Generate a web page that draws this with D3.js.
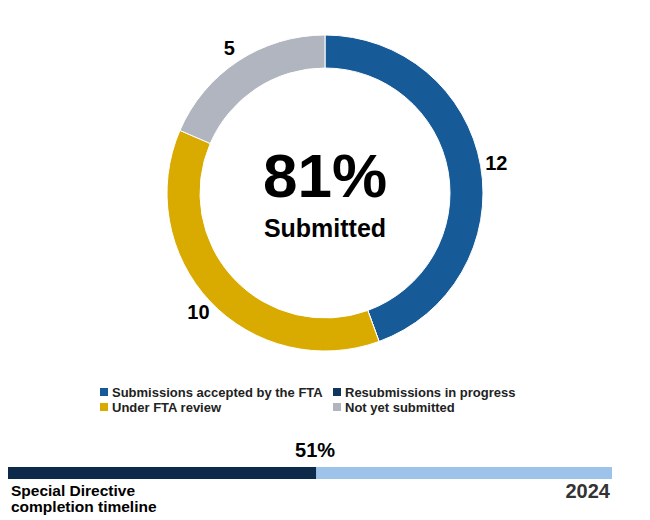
<!DOCTYPE html>
<html><head><meta charset="utf-8">
<script src="https://cdn.jsdelivr.net/npm/d3@7"></script>
<style>body{margin:0;background:#fff}text{font-family:"Liberation Sans",Arial,sans-serif;font-weight:bold}</style>
</head><body>
<svg id="c" width="650" height="520"></svg>
<script>
const categories=["Submissions accepted by the FTA","Resubmissions in progress","Under FTA review","Not yet submitted"];
const values=[12,0,10,5];
const colors=["#175a98","#12355b","#d9ab00","#b1b5bf"];
const centerPct="81%";
const centerLabel="Submitted";
const timelinePct=51;
const timelineLeft="Special Directive";
const timelineLeft2="completion timeline";
const timelineRight="2024";

const svg=d3.select("#c");
const cx=325,cy=193,ro=158,ri=125;
const pie=d3.pie().sort(null).value(d=>d)(values);
const arc=d3.arc().innerRadius(ri).outerRadius(ro);
const g=svg.append("g").attr("transform",`translate(${cx},${cy})`);
g.selectAll("path").data(pie).join("path").attr("d",arc).attr("fill",(d,i)=>colors[i]).attr("stroke","#fff").attr("stroke-width",1);
const la=d3.arc().innerRadius(ro+16).outerRadius(ro+16);
g.selectAll("text.v").data(pie.filter(d=>d.value>0)).join("text").attr("class","v")
 .attr("transform",d=>{const c=la.centroid(d);return `translate(${c})`})
 .attr("text-anchor","middle").attr("dy","0.35em").attr("font-size",20).text(d=>d.value);
g.append("text").attr("text-anchor","middle").attr("y",4).attr("font-size",62).text(centerPct);
g.append("text").attr("text-anchor","middle").attr("y",44).attr("font-size",25).text(centerLabel);

const lx=[100,333],ly=[392,407];
categories.forEach((c,i)=>{
 const x=lx[i%2],y=ly[Math.floor(i/2)];
 svg.append("rect").attr("x",x).attr("y",y-4).attr("width",8).attr("height",8).attr("fill",colors[i]);
 svg.append("text").attr("x",x+12).attr("y",y+4.5).attr("font-size",13).attr("fill","#222").text(c);
});

const xs=d3.scaleLinear().domain([0,100]).range([8,612]);
svg.append("rect").attr("x",xs(0)).attr("y",467).attr("width",xs(100)-xs(0)).attr("height",12).attr("fill","#9dc3ea");
svg.append("rect").attr("x",xs(0)).attr("y",467).attr("width",xs(timelinePct)-xs(0)).attr("height",12).attr("fill","#0d2a4a");
svg.append("text").attr("x",xs(timelinePct)-1).attr("y",457).attr("text-anchor","middle").attr("font-size",20).text(timelinePct+"%");
svg.append("text").attr("x",11).attr("y",496).attr("font-size",15.5).text(timelineLeft);
svg.append("text").attr("x",11).attr("y",512).attr("font-size",15.5).text(timelineLeft2);
svg.append("text").attr("x",610).attr("y",498).attr("text-anchor","end").attr("font-size",20).attr("fill","#333").text(timelineRight);
</script></body></html>
